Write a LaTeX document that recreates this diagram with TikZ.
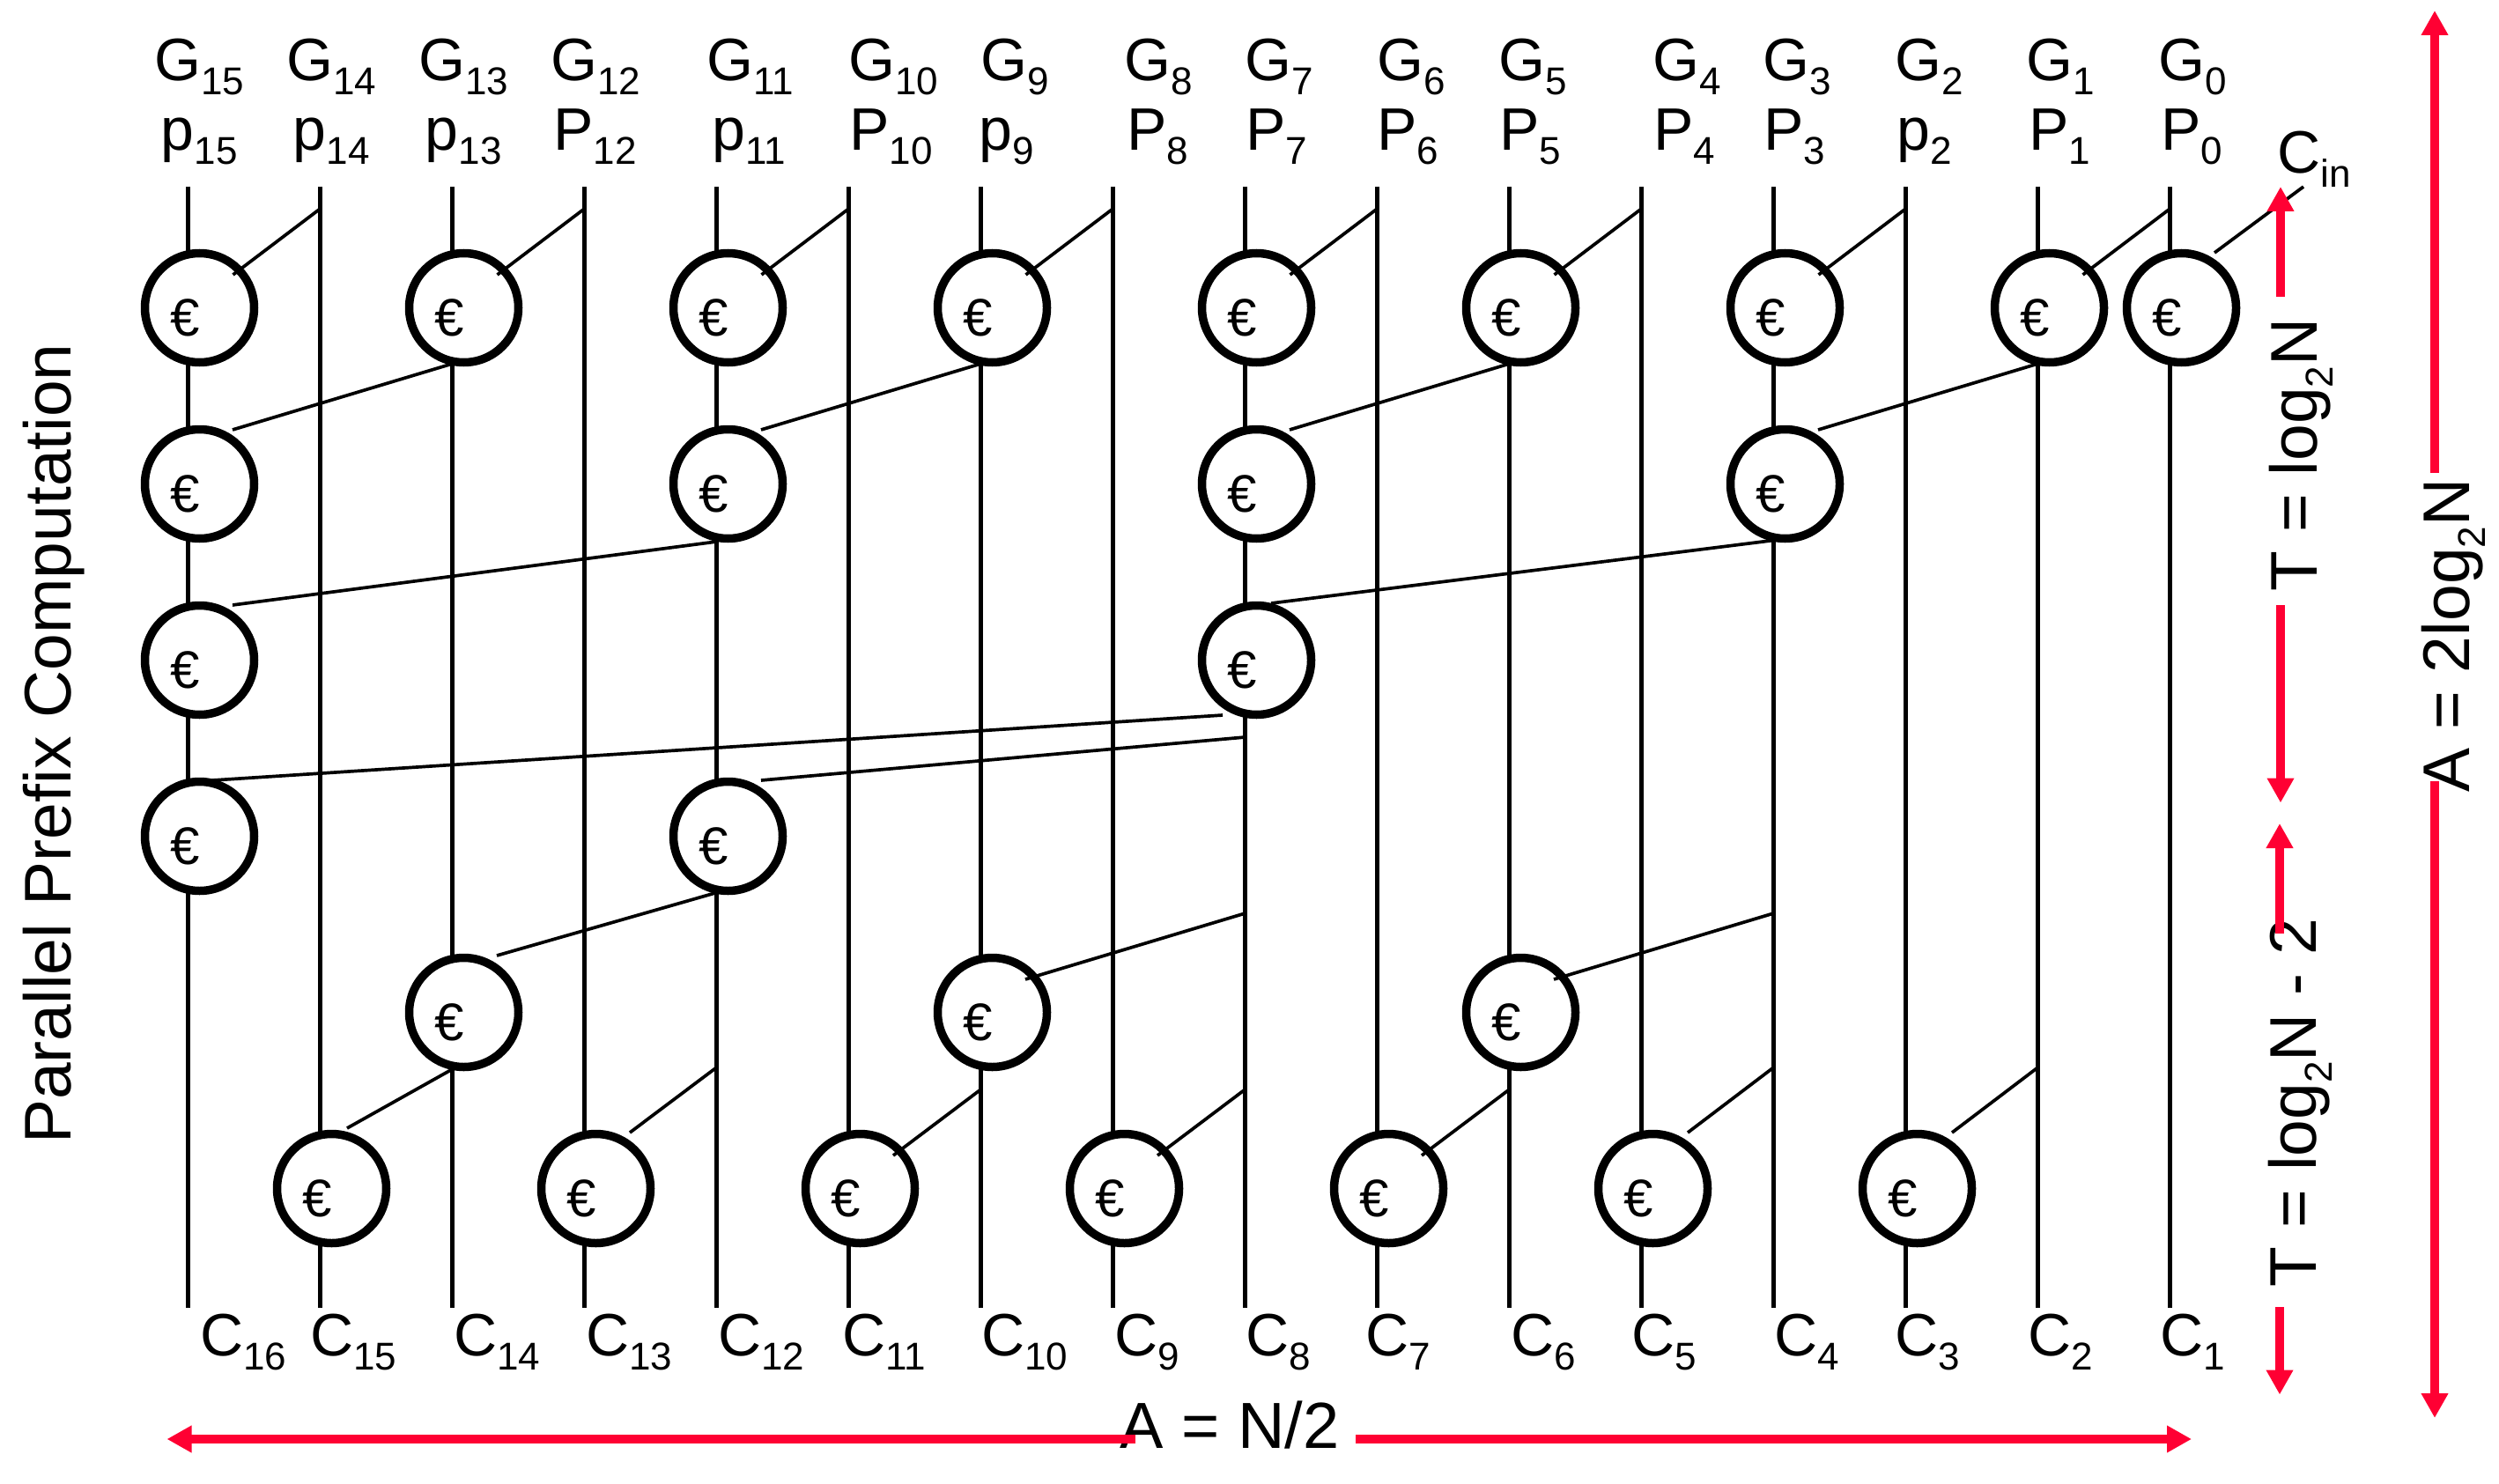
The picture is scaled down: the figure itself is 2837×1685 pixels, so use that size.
\documentclass[tikz,border=0pt]{standalone}
\usepackage{fontspec}
\setmainfont{Liberation Sans}
\usetikzlibrary{arrows.meta}
\definecolor{arrowred}{HTML}{FF0033}
\newcommand{\subt}[1]{\raisebox{-8pt}{\fontsize{22pt}{22pt}\selectfont #1}}
\newcommand{\subr}[1]{\raisebox{-9pt}{\fontsize{22pt}{22pt}\selectfont #1}}
\tikzset{
  wire/.style={line width=2.1pt},
  link/.style={line width=1.85pt},
  gate/.style={circle,draw,fill=white,line width=4.75pt,minimum size=62pt,inner sep=0pt,outer sep=0pt},
  euro/.style={anchor=base,inner sep=0pt,font=\fontsize{30pt}{30pt}\selectfont},
  lbl/.style={anchor=base west,inner sep=0pt,font=\fontsize{34pt}{34pt}\selectfont},
  side/.style={anchor=base,inner sep=0pt,rotate=90,font=\fontsize{37.5pt}{37.5pt}\selectfont},
  redstem/.style={line width=4.7pt,draw=arrowred},
  redarrow/.style={redstem,-{Triangle[length=14pt,width=14.5pt]},arrowred}
}
\begin{document}
\begin{tikzpicture}[x=0.5pt,y=-0.5pt]
\path[use as bounding box,fill=white] (0,0) rectangle (2837,1685);
% wires
\foreach \i in {0,...,15}{
  \coordinate (wt\i) at ({213.5+150*\i},212);
  \coordinate (wb\i) at ({213.5+150*\i},1485);
  \draw[wire] (wt\i) -- (wb\i);
}
% gates
\foreach \r/\c in {1/0,1/2,1/4,1/6,1/8,1/10,1/12,1/14,1/15,
                   2/0,2/4,2/8,2/12,
                   3/0,3/8,
                   4/0,4/4,
                   5/2,5/6,5/10,
                   6/1,6/3,6/5,6/7,6/9,6/11,6/13}{
  \node[gate] (n\r-\c) at ({226.5+150*\c},{349.5+200*(\r-1)}) {};
  \node[euro] (e\r-\c) at ([shift={(-16.5,32)}]n\r-\c.center) {€};
}
% level 1
\foreach \c/\d in {0/1,2/3,4/5,6/7,8/9,10/11,12/13,14/15}{
  \draw[link] ([shift={(0,25)}]wt\d) -- ([shift={(38,-37.5)}]n1-\c.center);
}
\coordinate (cinend) at (2615,212);
\draw[link] (cinend) -- ([shift={(37.5,-62.5)}]n1-15.center);
% level 2
\foreach \c/\d in {0/2,4/6,8/10,12/14}{
  \draw[link] ([shift={(-13,63.5)}]n1-\d.center) -- ([shift={(37.5,-61.5)}]n2-\c.center);
}
% level 3
\draw[link] ([shift={(-13,65.5)}]n2-4.center) -- ([shift={(37.5,-62.5)}]n3-0.center);
\draw[link] ([shift={(-13,64)}]n2-12.center) -- ([shift={(16.5,-64.5)}]n3-8.center);
% level 4
\draw[link] ([shift={(-38.5,62.5)}]n3-8.center) -- ([shift={(14.5,-63.5)}]n4-0.center);
\draw[link] ([shift={(-13,87.5)}]n3-8.center) -- ([shift={(37.5,-63.5)}]n4-4.center);
% level 5
\draw[link] ([shift={(-13,64)}]n4-4.center) -- ([shift={(37.5,-64.5)}]n5-2.center);
\draw[link] ([shift={(0,825)}]wt8) -- ([shift={(37.5,-37.5)}]n5-6.center);
\draw[link] ([shift={(0,825)}]wt12) -- ([shift={(37.5,-37.5)}]n5-10.center);
% level 6
\draw[link] ([shift={(-13,64.5)}]n5-2.center) -- ([shift={(17.5,-68.5)}]n6-1.center);
\draw[link] ([shift={(0,1000)}]wt4) -- ([shift={(38.5,-63.5)}]n6-3.center);
\draw[link] ([shift={(0,1025)}]wt6) -- ([shift={(37.5,-37.5)}]n6-5.center);
\draw[link] ([shift={(0,1025)}]wt8) -- ([shift={(37.5,-37.5)}]n6-7.center);
\draw[link] ([shift={(0,1025)}]wt10) -- ([shift={(37.5,-37.5)}]n6-9.center);
\draw[link] ([shift={(0,1000)}]wt12) -- ([shift={(39.5,-63.5)}]n6-11.center);
\draw[link] ([shift={(0,1000)}]wt14) -- ([shift={(39.5,-63.5)}]n6-13.center);
% top labels
\foreach \s/\x in {15/175,14/325,13/475,12/625,11/802,10/963,9/1113,8/1276,7/1413,6/1563,5/1701,4/1876,3/2001,2/2151,1/2300,0/2450}{
  \node[lbl] (g\s) at (\x,92) {G\subt{\s}};
}
\foreach \s/\l/\x in {15/p/182.5,14/p/332.5,13/p/482.5,12/P/628,11/p/808.5,10/P/964,9/p/1111,8/P/1279,7/P/1414,6/P/1563,5/P/1702,4/P/1877,3/P/2002,2/p/2153.5,1/P/2303,0/P/2453}{
  \node[lbl] (p\s) at (\x,171) {\l\subt{\s}};
}
\node[lbl] (cin) at (2585,197) {C\subt{in}};
% bottom labels
\foreach \s/\x in {16/227,15/352,14/515,13/665,12/815,11/956,10/1114,9/1265,8/1414,7/1550,6/1715,5/1852,4/2014,3/2151,2/2302,1/2452}{
  \node[lbl] (c\s) at (\x,1539) {C\subt{\s}};
}
% side texts
\node[side] (ppc) at (80,844.5) {Parallel Prefix Computation};
\node[side] (tone) at (2630,516.5) {T = log\subr{2}N};
\node[side] (ttwo) at (2629,1252) {T = log\subr{2}N - 2};
\node[side] (atwo) at (2803,721.5) {A = 2log\subr{2}N};
\node[anchor=base,inner sep=0pt,font=\fontsize{37pt}{37pt}\selectfont] (an) at (1396,1644) {A = N/2};
% red arrows
\coordinate (aup) at (2764,12);
\coordinate (aupt) at (2764,537);
\coordinate (adn) at (2764,1610);
\coordinate (adnt) at (2764,887);
\draw[redarrow] (aupt) -- (aup);
\draw[redarrow] (adnt) -- (adn);
\coordinate (tau) at (2589,212);
\coordinate (taut) at (2589,337);
\coordinate (tad) at (2589,911.5);
\coordinate (tadt) at (2589,687);
\draw[redarrow] (taut) -- (tau);
\draw[redarrow] (tadt) -- (tad);
\coordinate (tbu) at (2588,935);
\coordinate (tbut) at (2588,1060);
\coordinate (tbd) at (2588,1583.5);
\coordinate (tbdt) at (2588,1484);
\draw[redarrow] (tbut) -- (tbu);
\draw[redarrow] (tbdt) -- (tbd);
\coordinate (hl) at (189.5,1634);
\coordinate (hlt) at (1289,1634);
\coordinate (hr) at (2488,1634);
\coordinate (hrt) at (1539,1634);
\draw[redarrow] (hlt) -- (hl);
\draw[redarrow] (hrt) -- (hr);
\end{tikzpicture}
\end{document}
